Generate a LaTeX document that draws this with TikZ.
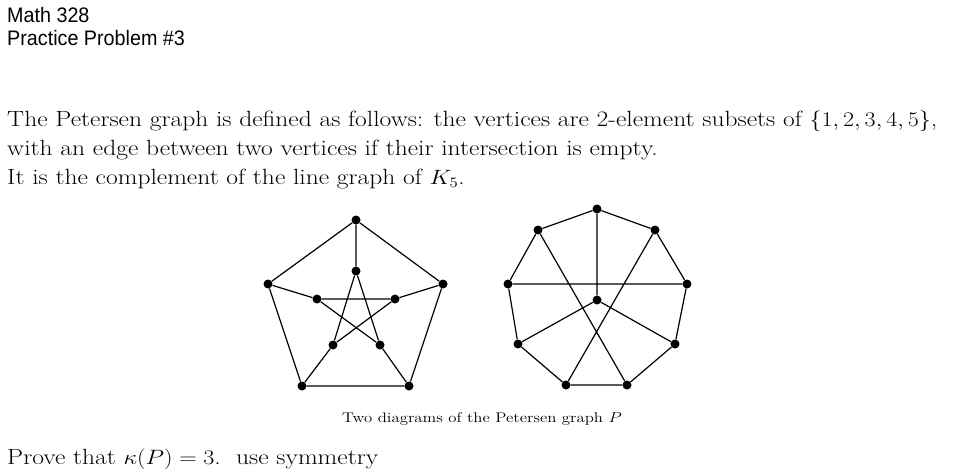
\documentclass[tikz,border=0pt]{standalone}
\usepackage{fontspec}
\newfontfamily\hdr{Liberation Sans}
\begin{document}
\begin{tikzpicture}[x=1pt,y=-1pt,
  v/.style={circle,fill=black,inner sep=0pt,minimum size=9pt},
  e/.style={line width=1.2pt},
  hd/.style={anchor=base west,inner sep=0pt,xscale=0.94,font=\hdr\fontsize{21}{24}\selectfont},
  txt/.style={anchor=base west,inner sep=0pt,xscale=1.16,font=\fontsize{22}{26}\selectfont}]
\useasboundingbox (0,0) rectangle (959,475);
\node[hd] (h1) at (7,22) {Math 328};
\node[hd] (h2) at (7,45) {Practice Problem \#3};
\node[txt] (t1) at (7,126) {The Petersen graph is defined as follows: the vertices are 2-element subsets of $\{1,2,3,4,5\}$,};
\node[txt] (t2) at (7,155) {with an edge between two vertices if their intersection is empty.};
\node[txt] (t3) at (7,184) {It is the complement of the line graph of $K_5$.};
% graph 1
\node[v] (a1) at (356,220) {}; \node[v] (a2) at (443,284) {}; \node[v] (a3) at (409,386) {};
\node[v] (a4) at (302,386) {}; \node[v] (a5) at (268,284) {};
\node[v] (b1) at (356,271) {}; \node[v] (b2) at (395,299) {}; \node[v] (b3) at (380,345) {};
\node[v] (b4) at (333,345) {}; \node[v] (b5) at (317,299) {};
\draw[e] (a1)--(a2)--(a3)--(a4)--(a5)--(a1);
\draw[e] (a1)--(b1) (a2)--(b2) (a3)--(b3) (a4)--(b4) (a5)--(b5);
\draw[e] (b1)--(b3)--(b5)--(b2)--(b4)--(b1);
% graph 2
\node[v] (c1) at (597,209) {}; \node[v] (c2) at (655,230) {}; \node[v] (c3) at (687,284) {};
\node[v] (c4) at (675,344) {}; \node[v] (c5) at (627,385) {}; \node[v] (c6) at (566,385) {};
\node[v] (c7) at (518,344) {}; \node[v] (c8) at (508,284) {}; \node[v] (c9) at (538,230) {};
\node[v] (c0) at (597,300) {};
\draw[e] (c1)--(c2)--(c3)--(c4)--(c5)--(c6)--(c7)--(c8)--(c9)--(c1);
\draw[e] (c1)--(c0) (c8)--(c3) (c0)--(c7) (c0)--(c4) (c9)--(c5) (c2)--(c6);
\node[anchor=base,inner sep=0pt,xscale=1.2,font=\fontsize{14}{16}\selectfont] (cap) at (482,422) {Two diagrams of the Petersen graph $P$};
\node[anchor=base west,inner sep=0pt,xscale=1.16,font=\fontsize{22}{26}\selectfont] (p) at (7,464) {Prove that $\kappa(P)=3$.\ \ use symmetry};
\end{tikzpicture}
\end{document}
